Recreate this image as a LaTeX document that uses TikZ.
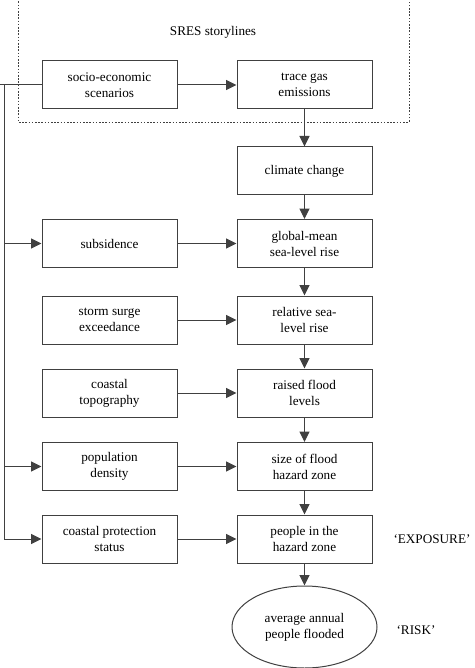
\documentclass[tikz,border=0pt]{standalone}
\usepackage{fontspec}
\setmainfont{Liberation Serif}
\usetikzlibrary{arrows.meta,shapes.geometric}
\definecolor{ln}{HTML}{404040}
\tikzset{
  box/.style={draw=ln, line width=1pt, minimum width=135pt, minimum height=48pt, inner sep=0pt, align=center, font=\fontsize{13.2}{16}\selectfont, text=black},
  oval/.style={ellipse, draw=ln, line width=1pt, minimum width=145pt, minimum height=82pt, inner sep=0pt, align=center, font=\fontsize{13.2}{16}\selectfont, text=black},
  lab/.style={font=\fontsize{13.2}{16}\selectfont, text=black},
  arr/.style={draw=ln, line width=1pt, -{Triangle[length=10.5pt,width=10pt]}},
  ln/.style={draw=ln, line width=1pt}
}
\begin{document}
\begin{tikzpicture}[x=1pt,y=-1pt]
\useasboundingbox (0,0) rectangle (474,668);
\begin{scope}
\clip (0,0) rectangle (474,668);
\draw[ln, dash pattern=on 1.6pt off 1.6pt, line width=0.8pt] (18,-5) rectangle (409,122);
\node[lab] (sres) at (213,32) {SRES storylines};
\node[box] (socio) at (109.5,85) {socio-economic\\scenarios};
\node[box] (trace) at (304.5,85) {trace gas\\emissions};
\node[box] (climate) at (304.5,171) {climate change};
\node[box] (subs) at (109.5,243.5) {subsidence};
\node[box] (gmslr) at (304.5,243.5) {global-mean\\sea-level rise};
\node[box] (storm) at (109.5,320) {storm surge\\exceedance};
\node[box] (rslr) at (304.5,320) {relative sea-\\level rise};
\node[box] (topo) at (109.5,393) {coastal\\topography};
\node[box] (raised) at (304.5,393) {raised flood\\levels};
\node[box] (pop) at (109.5,466.5) {population\\density};
\node[box] (size) at (304.5,466.5) {size of flood\\hazard zone};
\node[box] (prot) at (109.5,539) {coastal protection\\status};
\node[box] (people) at (304.5,539) {people in the\\hazard zone};
\node[oval] (avg) at (304.5,627) {average annual\\people flooded};
\node[lab] (expo) at (432,539) {`EXPOSURE'};
\node[lab] (risk) at (416,630) {`RISK'};
\coordinate (c0) at (0,85);
\coordinate (ctop) at (4.5,85);
\coordinate (cbot) at (4.5,539);
\draw[arr] (socio) -- (trace);
\draw[arr] (trace) -- (climate);
\draw[arr] (climate) -- (gmslr);
\draw[arr] (gmslr) -- (rslr);
\draw[arr] (rslr) -- (raised);
\draw[arr] (raised) -- (size);
\draw[arr] (size) -- (people);
\draw[arr] (people) -- (avg);
\draw[arr] (subs) -- (gmslr);
\draw[arr] (storm) -- (rslr);
\draw[arr] (topo) -- (raised);
\draw[arr] (pop) -- (size);
\draw[arr] (prot) -- (people);
\draw[ln] (socio.west) -- (c0);
\draw[arr] (ctop) -- (cbot) -- (prot.west);
\draw[arr] (ctop |- subs) -- (subs.west);
\draw[arr] (ctop |- pop) -- (pop.west);
\end{scope}
\end{tikzpicture}
\end{document}
